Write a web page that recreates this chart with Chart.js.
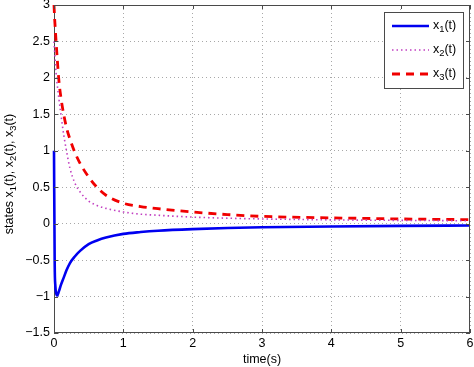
<!DOCTYPE html>
<html>
<head>
<meta charset="utf-8">
<script src="https://cdn.jsdelivr.net/npm/chart.js@4"></script>
<style>
  html, body { margin: 0; padding: 0; background: #fff; }
  #wrap { width: 474px; height: 367px; }
</style>
</head>
<body>
<div id="wrap"><canvas id="states" width="474" height="367"></canvas></div>
<script>
// time samples (s) shared by the three states
const times = [0, 0.01, 0.02, 0.03, 0.05, 0.07, 0.1, 0.14, 0.18, 0.23, 0.3, 0.38, 0.5, 0.62, 0.75, 1, 1.25, 1.5, 2, 2.5, 3, 4, 5, 6];

const x1 = [1, -0.55, -0.86, -0.95, -0.985, -0.93, -0.84, -0.74, -0.64, -0.54, -0.45, -0.37, -0.28, -0.23, -0.19, -0.14, -0.115, -0.097, -0.075, -0.06, -0.05, -0.038, -0.03, -0.025];
const x2 = [2.5, 2.35, 2.2, 2.07, 1.88, 1.72, 1.5, 1.22, 1.0, 0.76, 0.56, 0.43, 0.31, 0.25, 0.21, 0.16, 0.13, 0.115, 0.09, 0.075, 0.065, 0.052, 0.045, 0.04];
const x3 = [3, 2.8, 2.65, 2.5, 2.22, 1.97, 1.73, 1.5, 1.32, 1.16, 0.98, 0.82, 0.64, 0.5, 0.39, 0.28, 0.235, 0.205, 0.16, 0.125, 0.1, 0.08, 0.065, 0.055];

const seriesLabels = ['x1(t)', 'x2(t)', 'x3(t)'];
const xTicks = [0, 1, 2, 3, 4, 5, 6];
const yTicks = [-1.5, -1, -0.5, 0, 0.5, 1, 1.5, 2, 2.5, 3];
const xTitle = 'time(s)';
const yTitle = 'states x1(t), x2(t), x3(t)';

const FONT = '"Liberation Sans", Arial, Helvetica, sans-serif';
const FRAME = '#4a4a4a';

function pts(vals) {
    return times.map((t, i) => ({x: t, y: vals[i]}));
}

function fmt(v) {
    const s = String(v);
    return v < 0 ? '\u2212' + s.slice(1) : s;
}

// writes "x1(t)" as x with a subscript 1
function subText(ctx, str, x, y, size) {
    const parts = str.split(/(x)(\d)/);
    let cx = x;
    for (let i = 0; i < parts.length; i++) {
        const p = parts[i];
        if (!p) continue;
        const isSub = i > 0 && parts[i - 1] === 'x' && /^\d$/.test(p);
        ctx.font = (isSub ? size * 0.75 : size) + 'px ' + FONT;
        ctx.fillText(p, cx, isSub ? y + size * 0.3 : y);
        cx += ctx.measureText(p).width;
    }
    return cx - x;
}

function subWidth(ctx, str, size) {
    ctx.save();
    const w = subText(ctx, str, -9999, -9999, size);
    ctx.restore();
    return w;
}

const frame = {
    id: 'frame',
    beforeDatasetsDraw(chart) {
        const {ctx, chartArea: a} = chart;
        ctx.save();
        ctx.strokeStyle = FRAME;
        ctx.lineWidth = 1;
        ctx.strokeRect(a.left + 0.5, a.top + 0.5, a.right - a.left - 1, a.bottom - a.top - 1);
        ctx.restore();
    },
    afterDatasetsDraw(chart) {
        const {ctx, chartArea: a, scales} = chart;
        ctx.save();
        ctx.strokeStyle = FRAME;
        ctx.lineWidth = 1;
        ctx.beginPath();
        ctx.moveTo(a.left, a.bottom - 0.5); ctx.lineTo(a.right, a.bottom - 0.5);
        ctx.moveTo(a.left, a.top + 0.5); ctx.lineTo(a.right, a.top + 0.5);
        ctx.moveTo(a.right - 0.5, a.top); ctx.lineTo(a.right - 0.5, a.bottom);
        const tl = 4;
        xTicks.forEach(v => {
            const px = Math.round(scales.x.getPixelForValue(v)) + 0.5;
            ctx.moveTo(px, a.bottom); ctx.lineTo(px, a.bottom - tl);
            ctx.moveTo(px, a.top); ctx.lineTo(px, a.top + tl);
        });
        yTicks.forEach(v => {
            const py = Math.round(scales.y.getPixelForValue(v)) + 0.5;
            ctx.moveTo(a.left, py); ctx.lineTo(a.left + tl, py);
            ctx.moveTo(a.right, py); ctx.lineTo(a.right - tl, py);
        });
        ctx.stroke();

        // legend box
        const bw = 79, bh = 76;
        const bx = a.right - 7 - bw, by = a.top + 7;
        ctx.fillStyle = '#fff';
        ctx.fillRect(bx, by, bw, bh);
        ctx.strokeRect(bx + 0.5, by + 0.5, bw, bh);
        chart.data.datasets.forEach((ds, i) => {
            const ly = by + 14 + i * 24;
            ctx.save();
            ctx.strokeStyle = ds.borderColor;
            ctx.lineWidth = ds.borderWidth;
            ctx.setLineDash(ds.borderDash || []);
            ctx.beginPath();
            ctx.moveTo(bx + 8, ly);
            ctx.lineTo(bx + 45, ly);
            ctx.stroke();
            ctx.restore();
            ctx.fillStyle = '#000';
            ctx.textBaseline = 'middle';
            ctx.textAlign = 'left';
            subText(ctx, ds.label, bx + 49, ly, 12.5);
        });

        // y axis title
        ctx.save();
        const cy = (a.top + a.bottom) / 2 + 5;
        ctx.translate(10, cy);
        ctx.rotate(-Math.PI / 2);
        ctx.fillStyle = '#000';
        ctx.textBaseline = 'middle';
        ctx.textAlign = 'left';
        const w = subWidth(ctx, yTitle, 12.5);
        subText(ctx, yTitle, -w / 2, 0, 12.5);
        ctx.restore();
        ctx.restore();
    }
};

const colors = ['#0000f0', '#c13fc1', '#f00000'];
const widths = [2.6, 1.6, 2.8];
const dashes = [[], [1.5, 3], [8, 6]];
const values = [x1, x2, x3];

new Chart(document.getElementById('states').getContext('2d'), {
    type: 'line',
    data: {
        datasets: values.map((v, i) => ({
            label: seriesLabels[i],
            data: pts(v),
            borderColor: colors[i],
            borderWidth: widths[i],
            borderDash: dashes[i],
            pointRadius: 0,
            fill: false,
            clip: 4,
            cubicInterpolationMode: 'monotone'
        }))
    },
    plugins: [frame],
    options: {
        responsive: false,
        animation: false,
        layout: {padding: {top: 5, right: 4, left: 0, bottom: 0}},
        plugins: {legend: {display: false}, tooltip: {enabled: false}},
        scales: {
            x: {
                type: 'linear',
                min: 0, max: 6,
                afterBuildTicks: s => { s.ticks = xTicks.map(v => ({value: v})); },
                afterFit: s => { s.height = 34; s.paddingLeft = 0; s.paddingRight = 0; },
                ticks: {
                    color: '#000', padding: 3, maxRotation: 0,
                    font: {family: FONT, size: 12.5},
                    callback: v => fmt(v)
                },
                grid: {color: '#a8a8a8', drawTicks: false, lineWidth: 1},
                border: {display: false, dash: [1, 3]},
                title: {display: true, text: xTitle, color: '#000', padding: {top: 1, bottom: 0},
                        font: {family: FONT, size: 12.5}}
            },
            y: {
                min: -1.5, max: 3,
                afterBuildTicks: s => { s.ticks = yTicks.map(v => ({value: v})); },
                afterFit: s => { s.width = 54; s.paddingTop = 0; s.paddingBottom = 0; },
                ticks: {
                    color: '#000', padding: 4,
                    font: {family: FONT, size: 12.5},
                    callback: v => fmt(v)
                },
                grid: {color: '#a8a8a8', drawTicks: false, lineWidth: 1},
                border: {display: false, dash: [1, 3]}
            }
        }
    }
});
</script>
</body>
</html>
